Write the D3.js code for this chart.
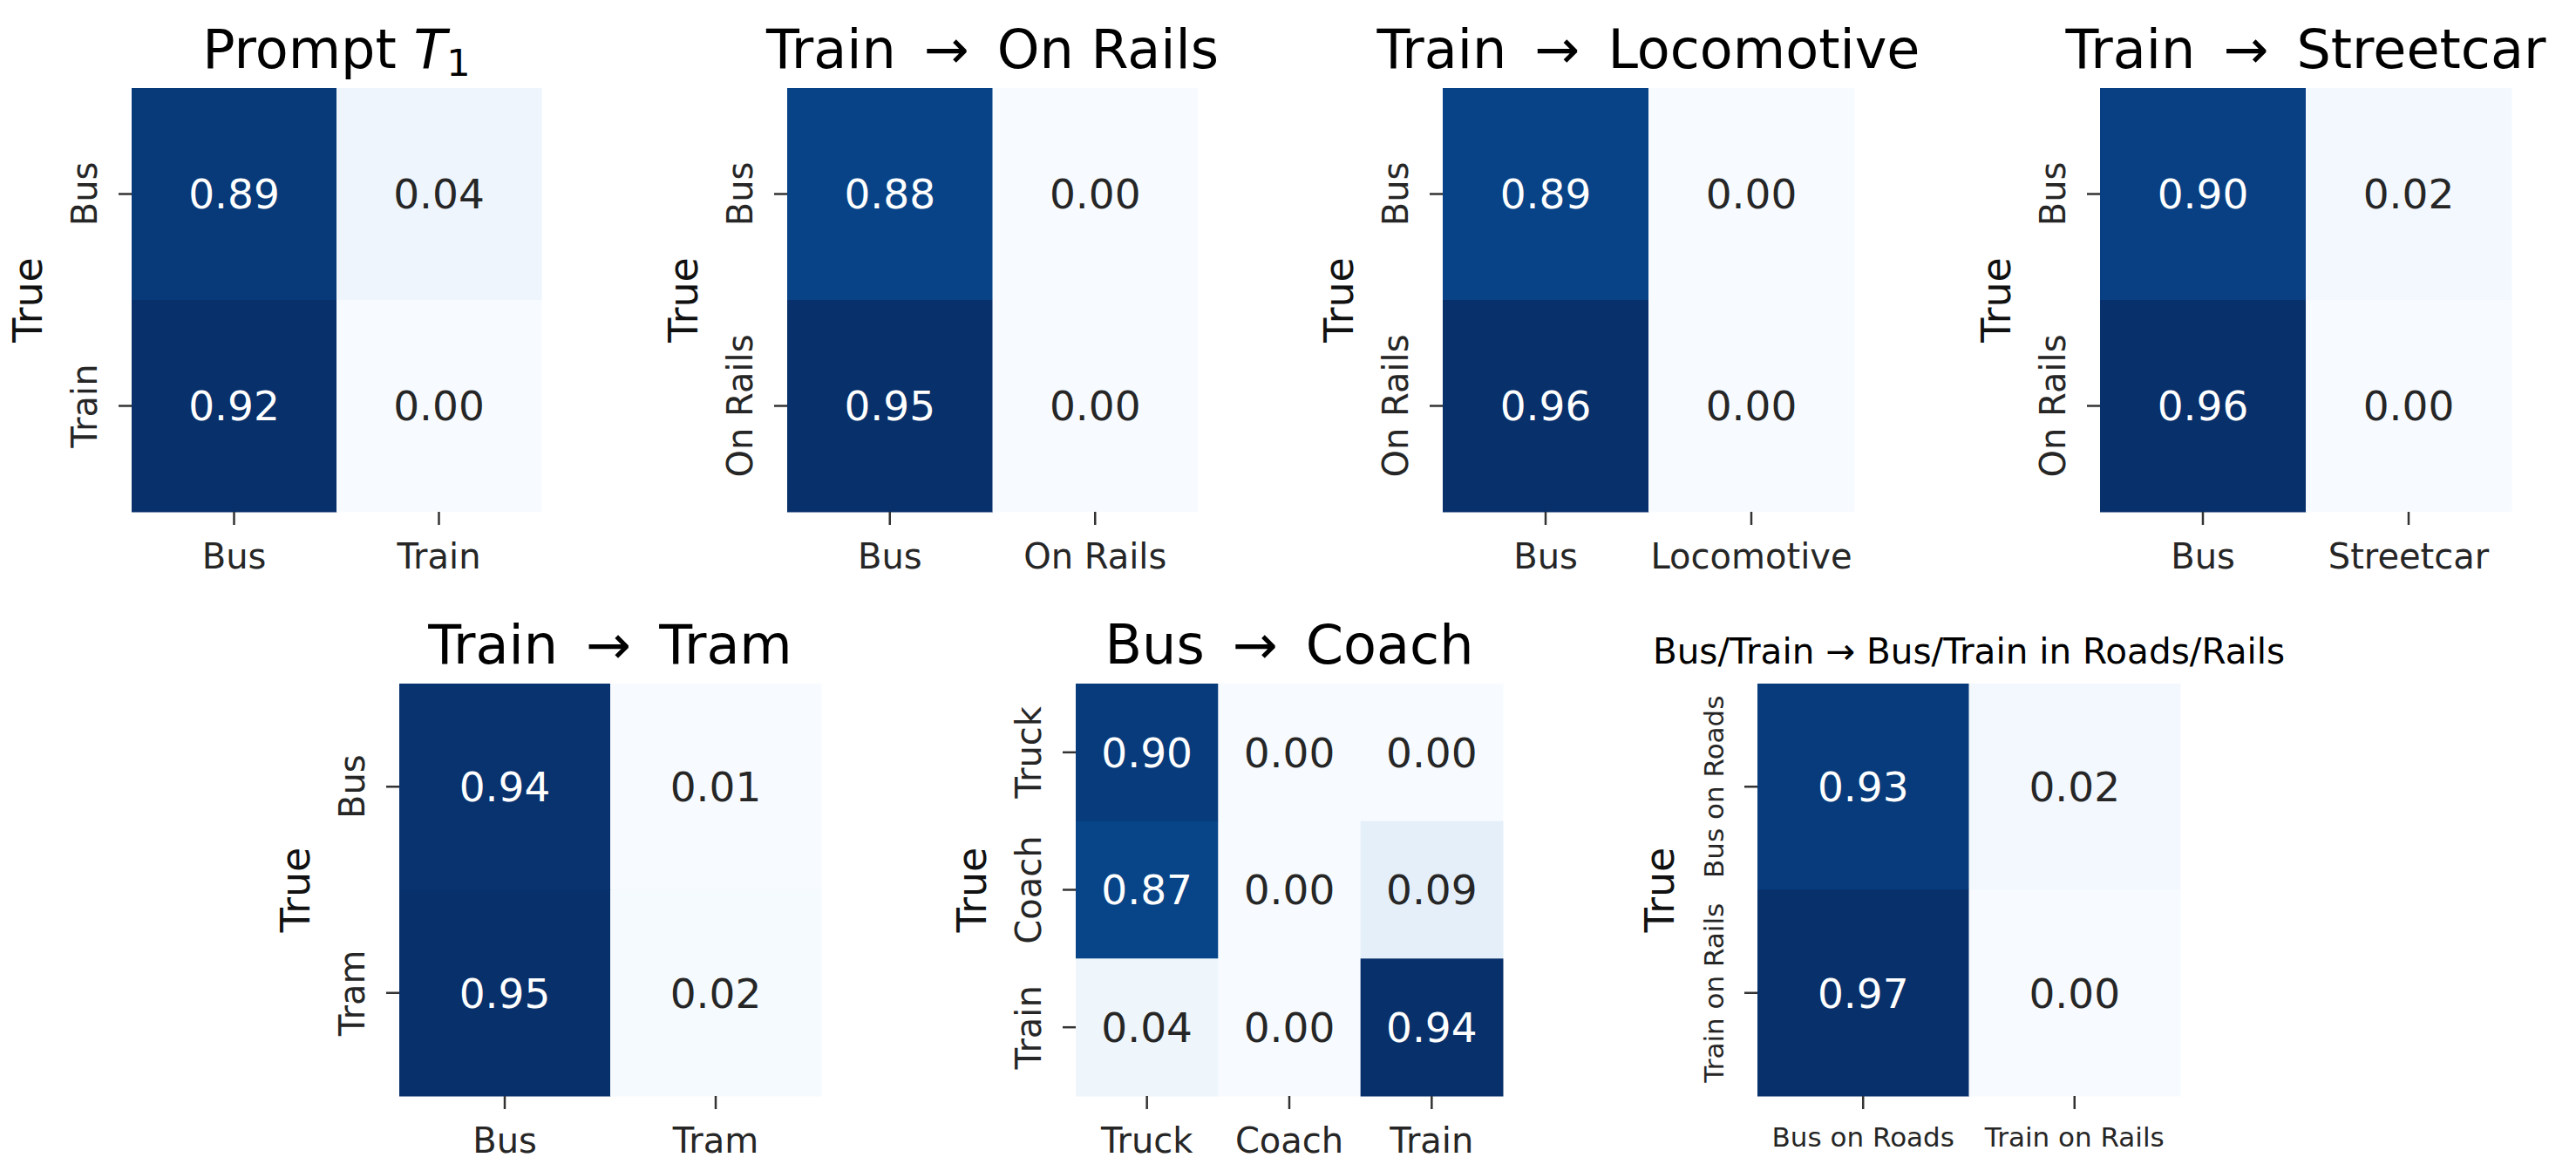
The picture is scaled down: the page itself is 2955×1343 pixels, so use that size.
<!DOCTYPE html>
<html>
<head>
<meta charset="utf-8">
<script src="https://cdn.jsdelivr.net/npm/d3@7"></script>
<style>
  body { margin: 0; background: #fff; }
  svg { display: block; font-family: "DejaVu Sans", sans-serif; }
  .tick line { stroke: #333; stroke-width: 2.5; }
</style>
</head>
<body>
<svg id="chart" width="2955" height="1343"></svg>
<script>
// values: rows = true class, columns = predicted class
const promptRows = ["Bus", "Train"];
const promptCols = ["Bus", "Train"];
const promptValues = [[0.89, 0.04], [0.92, 0.00]];

const onRailsRows = ["Bus", "On Rails"];
const onRailsCols = ["Bus", "On Rails"];
const onRailsValues = [[0.88, 0.00], [0.95, 0.00]];

const locoRows = ["Bus", "On Rails"];
const locoCols = ["Bus", "Locomotive"];
const locoValues = [[0.89, 0.00], [0.96, 0.00]];

const streetRows = ["Bus", "On Rails"];
const streetCols = ["Bus", "Streetcar"];
const streetValues = [[0.90, 0.02], [0.96, 0.00]];

const tramRows = ["Bus", "Tram"];
const tramCols = ["Bus", "Tram"];
const tramValues = [[0.94, 0.01], [0.95, 0.02]];

const coachRows = ["Truck", "Coach", "Train"];
const coachCols = ["Truck", "Coach", "Train"];
const coachValues = [[0.90, 0.00, 0.00], [0.87, 0.00, 0.09], [0.04, 0.00, 0.94]];

const roadsRows = ["Bus on Roads", "Train on Rails"];
const roadsCols = ["Bus on Roads", "Train on Rails"];
const roadsValues = [[0.93, 0.02], [0.97, 0.00]];

const ARROW = "\u00a0\u2009\u2192\u00a0\u2009";

// matplotlib "Blues"
const BLUES = ["#f7fbff", "#deebf7", "#c6dbef", "#9ecae1", "#6baed6",
               "#4292c6", "#2171b5", "#08519c", "#08306b"];
const blues = d3.scaleLinear()
  .domain(d3.range(BLUES.length).map(i => i / (BLUES.length - 1)))
  .range(BLUES)
  .interpolate(d3.interpolateRgb);

const panels = [
  { title: null, rows: promptRows, cols: promptCols, values: promptValues, box: [151, 621, 101, 587] },
  { title: "Train" + ARROW + "On Rails", rows: onRailsRows, cols: onRailsCols, values: onRailsValues, box: [903, 1374, 101, 587] },
  { title: "Train" + ARROW + "Locomotive", rows: locoRows, cols: locoCols, values: locoValues, box: [1655, 2127, 101, 587] },
  { title: "Train" + ARROW + "Streetcar", rows: streetRows, cols: streetCols, values: streetValues, box: [2409, 2881, 101, 587] },
  { title: "Train" + ARROW + "Tram", rows: tramRows, cols: tramCols, values: tramValues, box: [458, 942, 784, 1257] },
  { title: "Bus" + ARROW + "Coach", rows: coachRows, cols: coachCols, values: coachValues, box: [1234, 1724, 784, 1257] },
  { title: "Bus/Train \u2192 Bus/Train in Roads/Rails", rows: roadsRows, cols: roadsCols, values: roadsValues, box: [2016, 2501, 784, 1257], small: true },
];

const svg = d3.select("#chart");

function luminance(c) {
  const rgb = d3.rgb(c);
  const lin = v => {
    v /= 255;
    return v <= 0.03928 ? v / 12.92 : Math.pow((v + 0.055) / 1.055, 2.4);
  };
  return 0.2126 * lin(rgb.r) + 0.7152 * lin(rgb.g) + 0.0722 * lin(rgb.b);
}

function drawPanel(p) {
  const [x0, x1, y0, y1] = p.box;
  const tickFont = p.small ? 31 : 40;
  const g = svg.append("g");

  const x = d3.scaleBand().domain(p.cols).range([x0, x1]);
  const y = d3.scaleBand().domain(p.rows).range([y0, y1]);

  const cells = p.values.flatMap((row, i) =>
    row.map((v, j) => ({ r: p.rows[i], c: p.cols[j], v })));
  const [lo, hi] = d3.extent(cells, d => d.v);
  const norm = d3.scaleLinear().domain([lo, hi]).range([0, 1]);

  g.selectAll("rect.cell")
    .data(cells)
    .join("rect")
    .attr("class", "cell")
    .attr("x", d => x(d.c))
    .attr("y", d => y(d.r))
    .attr("width", x.bandwidth() + 0.5)
    .attr("height", y.bandwidth() + 0.5)
    .attr("fill", d => blues(norm(d.v)));

  g.selectAll("text.annot")
    .data(cells)
    .join("text")
    .attr("class", "annot")
    .attr("x", d => x(d.c) + x.bandwidth() / 2)
    .attr("y", d => y(d.r) + y.bandwidth() / 2)
    .attr("dy", "0.36em")
    .attr("text-anchor", "middle")
    .attr("font-size", 47)
    .attr("fill", d => luminance(blues(norm(d.v))) > 0.408 ? "#262626" : "#ffffff")
    .text(d => d.v.toFixed(2));

  g.append("g")
    .attr("transform", `translate(0,${y1})`)
    .call(d3.axisBottom(x).tickSize(15))
    .call(a => {
      a.attr("font-size", null).attr("font-family", null);
      a.select(".domain").remove();
      a.selectAll("text")
        .attr("y", p.small ? 58 : 65)
        .attr("dy", null)
        .attr("font-size", tickFont)
        .attr("fill", "#262626");
    });

  g.append("g")
    .attr("transform", `translate(${x0},0)`)
    .call(d3.axisLeft(y).tickSize(15))
    .call(a => {
      a.attr("font-size", null).attr("font-family", null);
      a.select(".domain").remove();
      a.selectAll("text")
        .attr("transform", "rotate(-90)")
        .attr("x", 0)
        .attr("y", p.small ? -39 : -40)
        .attr("dy", null)
        .attr("text-anchor", "middle")
        .attr("font-size", tickFont)
        .attr("fill", "#262626");
    });

  g.append("text")
    .attr("transform", `translate(${x0 - (p.small ? 113 : 120)},${(y0 + y1) / 2}) rotate(-90)`)
    .attr("text-anchor", "middle")
    .attr("dy", "0.36em")
    .attr("font-size", 46)
    .attr("fill", "#111")
    .text("True");

  const title = g.append("text")
    .attr("x", (x0 + x1) / 2)
    .attr("y", y0 - 23)
    .attr("text-anchor", "middle")
    .attr("font-size", p.small ? 40.5 : 62)
    .attr("fill", "#000");

  if (p.title) {
    title.text(p.title);
  } else {
    title.append("tspan").text("Prompt ");
    title.append("tspan").attr("font-style", "italic").text("T");
    title.append("tspan").attr("font-size", 43).attr("dy", 9).text("1");
  }
}

panels.forEach(drawPanel);
</script>
</body>
</html>
